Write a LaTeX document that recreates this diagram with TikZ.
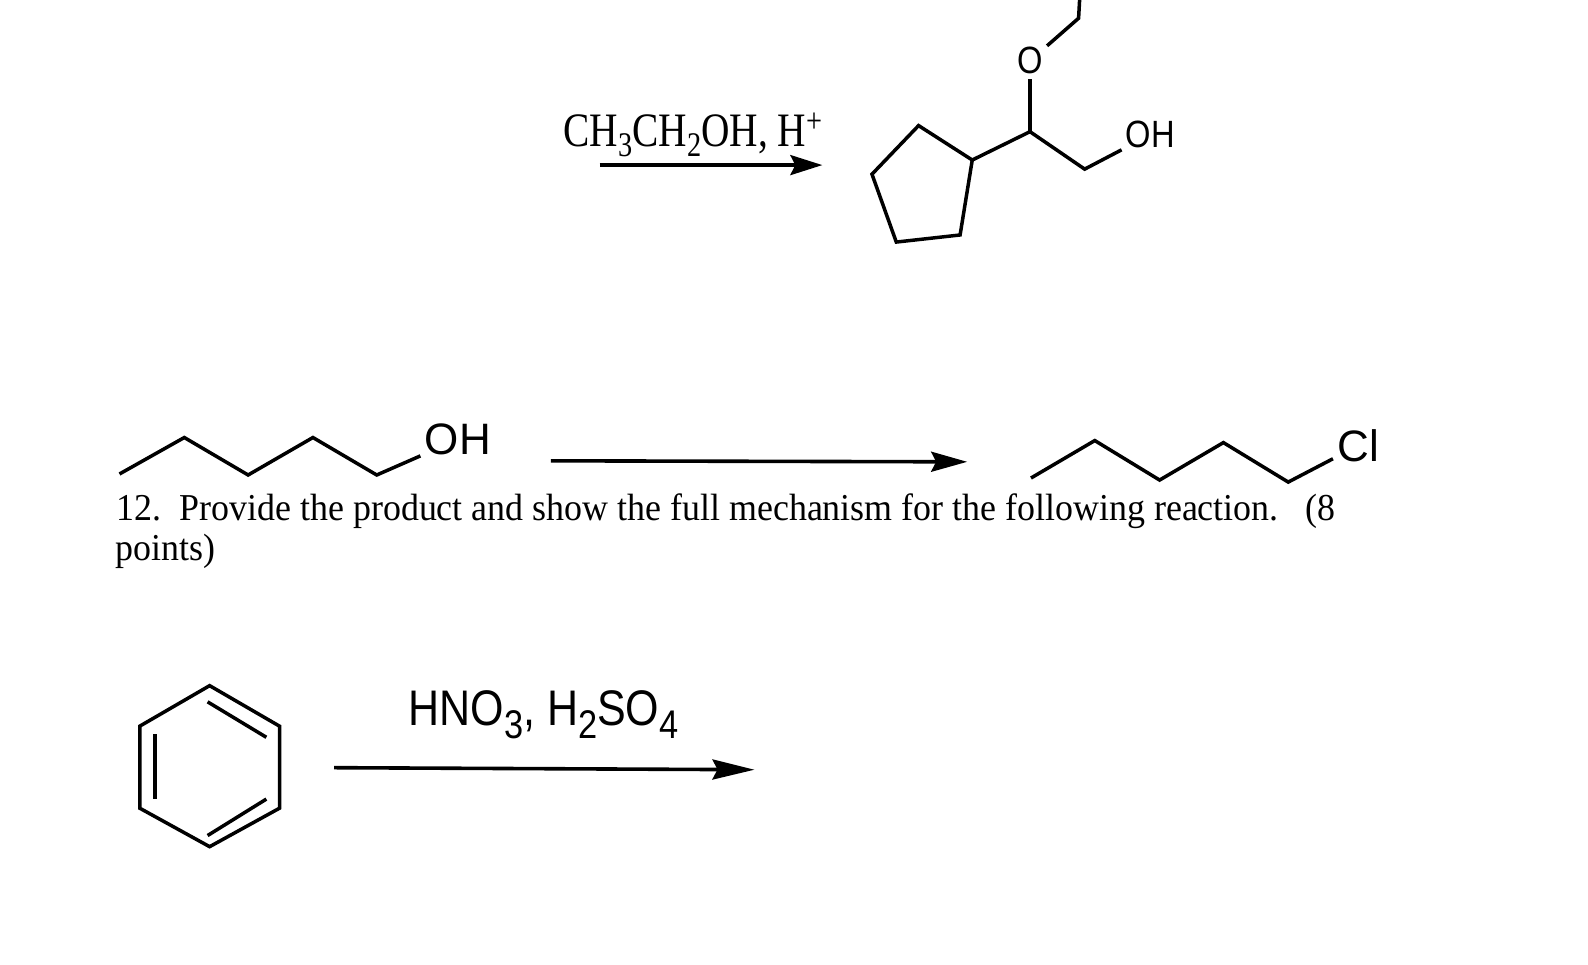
\documentclass[tikz,border=0pt]{standalone}
\usepackage{fontspec}
\setmainfont{Liberation Serif}
\newfontfamily\labelfont{Liberation Sans}
\newfontfamily\narrowlabelfont[FakeStretch=0.86]{Liberation Sans}
\newfontfamily\narrowserif[FakeStretch=0.82]{Liberation Serif}
\newfontfamily\textserif[FakeStretch=0.945]{Liberation Serif}
\usetikzlibrary{arrows.meta}
\newcommand{\chemsub}[1]{\raisebox{-0.2em}{\scalebox{0.72}{#1}}}
\newcommand{\chemsup}[1]{\raisebox{0.3em}{\scalebox{0.72}{#1}}}
\newcommand{\sanssub}[1]{\raisebox{-0.27em}{\scalebox{0.8}{#1}}}
\tikzset{
  bond/.style={line width=1.75pt, line join=miter},
  atom/.style={font=\labelfont\fontsize{22}{22}\selectfont, inner sep=2pt},
  smallatom/.style={font=\narrowlabelfont\fontsize{19}{19}\selectfont, inner sep=2pt},
  reagent/.style={font=\narrowserif\fontsize{24}{24}\selectfont, inner sep=0pt, anchor=base west},
  sansreagent/.style={font=\narrowlabelfont\fontsize{25}{25}\selectfont, inner sep=0pt, anchor=base west},
  question/.style={font=\textserif\fontsize{19}{19}\selectfont, inner sep=0pt, anchor=base west},
  reaction/.style={line width=1.8pt, -{Stealth[length=#1, width=10pt, inset=2.5pt]}},
  reaction/.default=16pt,
}
\begin{document}
\begin{tikzpicture}[x=0.5064pt, y=-0.5064pt]
\useasboundingbox (0,0) rectangle (1568,952);
% first reaction
\node[reagent] (etoh) at (556,145) {CH\chemsub{3}CH\chemsub{2}OH, H\chemsup{+}};
\coordinate (etohstart) at (592,163);
\coordinate (etohend) at (812,163);
\draw[reaction] (etohstart) -- (etohend);
% ring and side chain
\foreach \ringname/\ringx/\ringy in {ra/907/124, rb/960/158, rc/948/232, rd/885/239, re/861/172} {
  \coordinate (\ringname) at (\ringx,\ringy);
}
\draw[bond] (ra) -- (rb) -- (rc) -- (rd) -- (re) -- cycle;
\coordinate (ca) at (1017,130);
\coordinate (cb) at (1071,167);
\coordinate (cc) at (1065,18);
\coordinate (cd) at (1066,0);
\node[smallatom] (ether) at (1017,60) {O};
\node[smallatom] (hydroxyl) at (1136,133) {OH};
\draw[bond] (rb) -- (ca) -- (cb) -- (hydroxyl);
\draw[bond] (ca) -- (ether);
\draw[bond] (ether) -- (cc) -- (cd);
% second reaction
\foreach \chainname/\chainx/\chainy in {la/118/468, lb/182/432, lc/245/469, ld/309/432, le/372/469,
  pa/1018/472, pb/1081/435, pc/1145/474, pd/1208/437, pe/1272/476} {
  \coordinate (\chainname) at (\chainx,\chainy);
}
\node[atom] (alcohol) at (452,434) {OH};
\node[atom] (chloride) at (1341,440) {Cl};
\draw[bond] (la) -- (lb) -- (lc) -- (ld) -- (le) -- (alcohol);
\draw[bond] (pa) -- (pb) -- (pc) -- (pd) -- (pe) -- (chloride);
\coordinate (clstart) at (544,455);
\coordinate (clend) at (955,456);
\draw[reaction=18pt] (clstart) -- (clend);
% question text
\node[question] (line1) at (115,514) {12.\ \ Provide the product and show the full mechanism for the following reaction.\ \ \ (8};
\node[question] (line2) at (114,553) {points)};
% benzene
\foreach \benzname/\benzx/\benzy in {ba/207/677, bb/276/717, bc/276/798, bd/207/836, be/138/798, bf/138/717,
  ia/205/693, ib/263/728, ic/263/789, id/205/825, ie/153/725, ig/153/789} {
  \coordinate (\benzname) at (\benzx,\benzy);
}
\draw[bond] (ba) -- (bb) -- (bc) -- (bd) -- (be) -- (bf) -- cycle;
\draw[bond] (ia) -- (ib);
\draw[bond] (ic) -- (id);
\draw[bond] (ie) -- (ig);
\node[sansreagent] (nitration) at (403,716) {HNO\sanssub{3}, H\sanssub{2}SO\sanssub{4}};
\coordinate (nitstart) at (330,758);
\coordinate (nitend) at (745,760);
\draw[reaction=21pt] (nitstart) -- (nitend);
\end{tikzpicture}
\end{document}
